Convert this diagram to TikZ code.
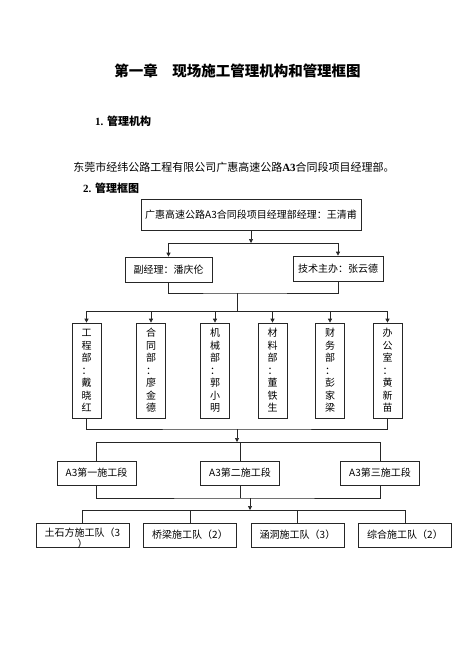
\documentclass[tikz,border=0pt]{standalone}
\usepackage{fontspec}
\setmainfont{Liberation Serif}
\newfontfamily\cjk{Noto Sans CJK SC}
\usetikzlibrary{arrows.meta}
\begin{document}
\begin{tikzpicture}[x=1pt,y=-1pt,
  ln/.style={line width=0.7pt, draw=black!85},
  arr/.style={ln, -{Triangle[length=4pt,width=4pt]}},
  box/.style={draw=black!85, line width=0.7pt, inner sep=0pt, font=\cjk\fontsize{10}{12}\selectfont},
  dept/.style={box, minimum width=29pt, minimum height=95pt, align=center, font=\cjk\fontsize{10}{12.5}\selectfont},
  sect/.style={box, minimum width=79pt, minimum height=24pt},
  team/.style={box, minimum width=93pt, minimum height=24pt}]
\useasboundingbox (0,0) rectangle (474,670);
% headings
\node[font=\cjk\bfseries\fontsize{14.5}{18}\selectfont] (title) at (237.5,71) {第一章\quad 现场施工管理机构和管理框图};
\node[anchor=west, inner sep=0pt, font=\fontsize{11}{13}\selectfont] (h1) at (95,121) {\bfseries 1. {\cjk 管理机构}};
\node[inner sep=0pt, font=\cjk\fontsize{11}{13}\selectfont] (org) at (234,167) {东莞市经纬公路工程有限公司广惠高速公路{\rmfamily\bfseries A3}合同段项目经理部。};
\node[anchor=west, inner sep=0pt, font=\fontsize{11}{13}\selectfont] (h2) at (83,188) {\bfseries 2. {\cjk 管理框图}};
% level 1
\node[box, minimum width=220pt, minimum height=31pt] (top) at (251,214.5) {广惠高速公路A3合同段项目经理部经理：王清甫};
\coordinate (j1) at (251,243);
% level 2
\node[box, minimum width=87pt, minimum height=25pt] (vice) at (168.5,269.5) {副经理：潘庆伦};
\node[box, minimum width=90pt, minimum height=25pt] (tech) at (338,268.5) {技术主办：张云德};
\coordinate (j2) at (237,293);
\coordinate (j3) at (237,311);
% departments
\node[dept] (d1) at (86.5,370.5) {工\\程\\部\\：\\戴\\晓\\红};
\node[dept] (d2) at (151,370.5) {合\\同\\部\\：\\廖\\金\\德};
\node[dept] (d3) at (215,370.5) {机\\械\\部\\：\\郭\\小\\明};
\node[dept] (d4) at (272.5,370.5) {材\\料\\部\\：\\董\\铁\\生};
\node[dept] (d5) at (330,370.5) {财\\务\\部\\：\\彭\\家\\梁};
\node[dept] (d6) at (387.5,370.5) {办\\公\\室\\：\\黄\\新\\苗};
\coordinate (j4) at (237,429);
\coordinate (j5) at (237,442);
% sections
\node[sect] (a1) at (96.5,473) {A3第一施工段};
\node[sect] (a2) at (240,473) {A3第二施工段};
\node[sect] (a3) at (380,473) {A3第三施工段};
\coordinate (j6) at (250,498);
\coordinate (j7) at (250,510);
% teams
\node[team] (b1) at (82.5,535) {};
\node[inner sep=0pt, align=center, font=\cjk\fontsize{10}{11}\selectfont] (b1t) at (82.5,538) {土石方施工队（3\\）};
\node[team] (b2) at (190,535) {桥梁施工队（2）};
\node[team] (b3) at (297.5,535) {涵洞施工队（3）};
\node[team] (b4) at (405,535) {综合施工队（2）};
% connectors
\draw[arr] (top.south) -- (j1);
\draw[arr] (j1) -| (vice.north);
\draw[arr] (j1) -| (tech.north);
\draw[ln] (vice.south) |- (j2) -| (tech.south);
\draw[ln] (j2) -- (j3);
\foreach \d in {d1,d2,d3,d4,d5,d6} {\draw[arr] (j3) -| (\d.north);}
\draw[ln] (d1.south) |- (j4) -| (d6.south);
\draw[arr] (j4) -- (j5);
\draw[ln] (j5) -| (a1.north);
\draw[ln] (j5) -| (a3.north);
\draw[ln] (j5 -| a2.north) -- (a2.north);
\draw[ln] (a1.south) |- (j6) -| (a3.south);
\draw[ln] (a2.south) -- (a2.south |- j6);
\draw[arr] (j6) -- (j7);
\draw[ln] (j7) -| (b1.north);
\draw[ln] (j7) -| (b4.north);
\draw[ln] (j7 -| b2.north) -- (b2.north);
\draw[ln] (j7 -| b3.north) -- (b3.north);
\end{tikzpicture}
\end{document}
